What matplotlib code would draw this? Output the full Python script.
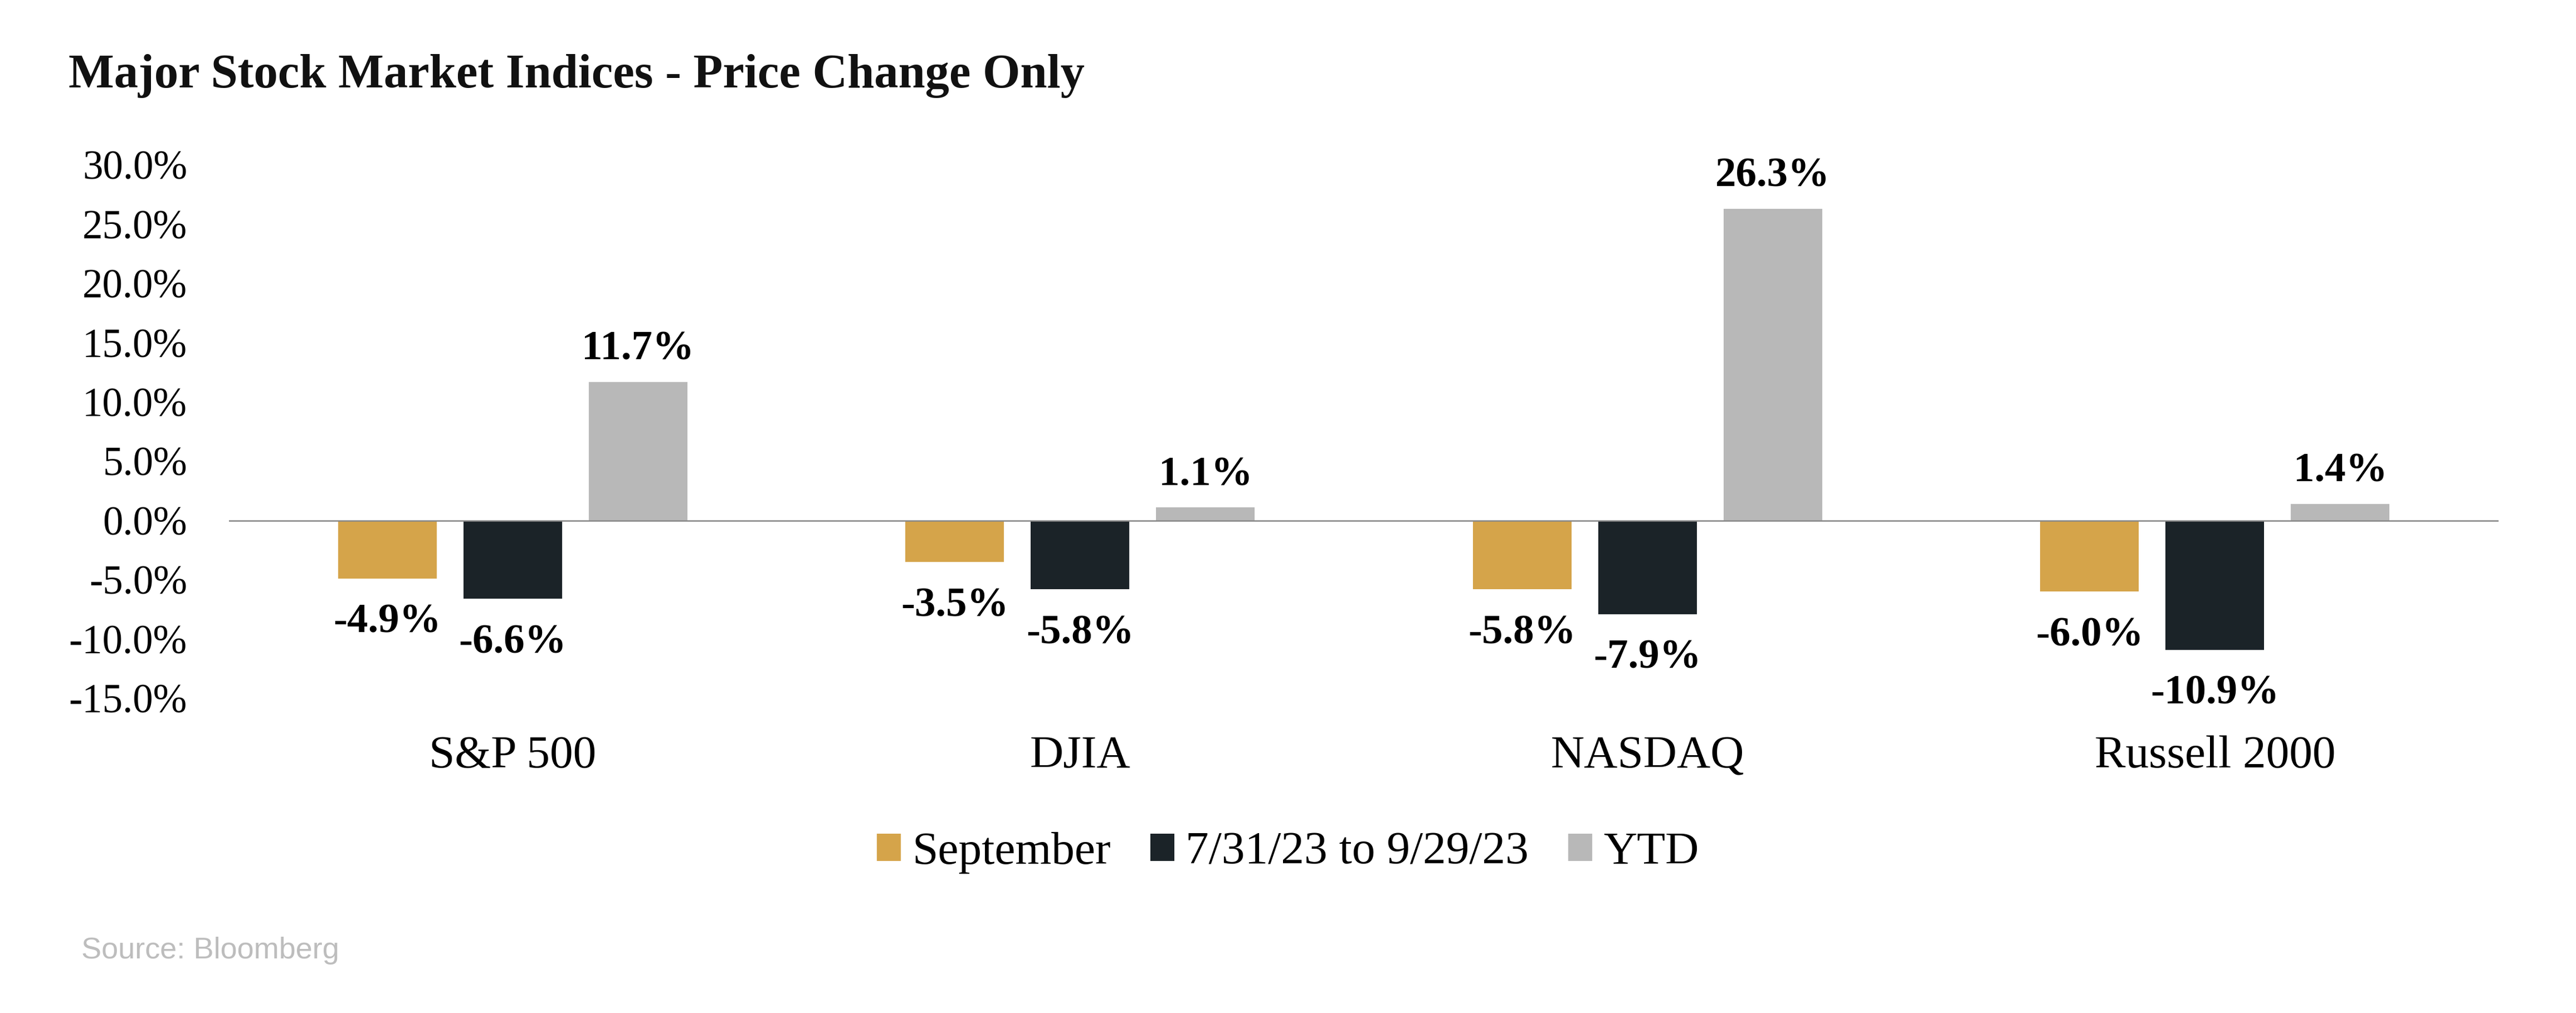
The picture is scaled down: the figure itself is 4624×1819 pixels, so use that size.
import matplotlib
matplotlib.use("Agg")
import matplotlib.pyplot as plt
import numpy as np

# ---- data ----
categories = ["S&P 500", "DJIA", "NASDAQ", "Russell 2000"]
series_names = ["September", "7/31/23 to 9/29/23", "YTD"]
september = [-4.9, -3.5, -5.8, -6.0]
two_month = [-6.6, -5.8, -7.9, -10.9]
ytd = [11.7, 1.1, 26.3, 1.4]
y_ticks = [-15, -10, -5, 0, 5, 10, 15, 20, 25, 30]

title = "Major Stock Market Indices - Price Change Only"
source = "Source: Bloomberg"

colors = ["#D5A44A", "#1B2328", "#B8B8B8"]

W, H, DPI = 4624, 1819, 300
fig = plt.figure(figsize=(W / DPI, H / DPI), dpi=DPI)
fig.patch.set_facecolor("white")

left, right = 411 / W, 4485 / W
top, bottom = 1 - 296 / H, 1 - 1254 / H
ax = fig.add_axes([left, bottom, right - left, top - bottom])

serif = "Liberation Serif"
x = np.arange(len(categories))
width = 0.174
step = 0.221
all_series = [september, two_month, ytd]

for j, (vals, name, col) in enumerate(zip(all_series, series_names, colors)):
    pos = x + (j - 1) * step
    ax.bar(pos, vals, width=width, color=col, label=name, zorder=2)
    for xi, v in zip(pos, vals):
        if v >= 0:
            ax.annotate(f"{v:.1f}%", (xi, v), xytext=(0, 9.6), textcoords="offset points",
                        ha="center", va="baseline", fontsize=18, fontweight="bold",
                        family=serif, color="black")
        else:
            ax.annotate(f"{v:.1f}%", (xi, v), xytext=(0, -10.8), textcoords="offset points",
                        ha="center", va="top", fontsize=18, fontweight="bold",
                        family=serif, color="black")

ax.axhline(0, color="#878787", lw=0.6, zorder=3)

ax.set_xlim(-0.5, len(categories) - 0.5)
ax.set_ylim(-15, 30)
ax.set_yticks(y_ticks)
ax.set_yticklabels([f"{t:.1f}%" for t in y_ticks], family=serif, fontsize=17.5)
ax.set_xticks(x)
ax.set_xticklabels(categories, family=serif, fontsize=20)
ax.tick_params(axis="y", length=0, pad=18)
ax.tick_params(axis="x", length=0, pad=16)
for s in ax.spines.values():
    s.set_visible(False)

fig.legend(loc="center", bbox_to_anchor=(0.5, 1 - 1531 / H), ncol=3, frameon=False,
           prop={"family": serif, "size": 20}, handlelength=0.51, handleheight=0.53,
           handletextpad=0.25, columnspacing=0.85, borderpad=0, borderaxespad=0)

fig.text(123 / W, 1 - 157 / H, title, family=serif, fontweight="bold", fontsize=20.8,
         ha="left", va="baseline", color="#111111")
fig.text(146 / W, 1 - 1721 / H, source, family="Liberation Sans", fontsize=13,
         ha="left", va="baseline", color="#BDBDBD")

fig.savefig("out.png", dpi=DPI, facecolor="white")
